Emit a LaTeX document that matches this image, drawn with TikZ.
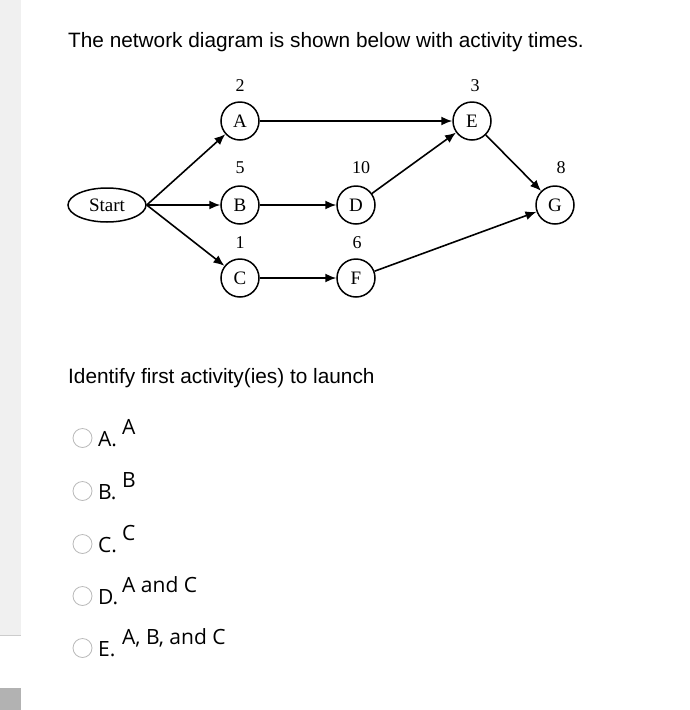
\documentclass[tikz,border=0pt]{standalone}
\usepackage{fontspec}
\setmainfont{Liberation Sans}
\newfontfamily\serf{Liberation Serif}
\newfontfamily\opsans{Open Sans}
\usetikzlibrary{shapes.geometric,arrows.meta}
\begin{document}
\begin{tikzpicture}[x=1pt,y=-1pt,
  act/.style={circle,draw,line width=1.5pt,minimum size=38pt,inner sep=0pt,font=\serf\fontsize{19}{19}\selectfont},
  lab/.style={font=\serf\fontsize{18}{18}\selectfont},
  arr/.style={-{Latex[length=11pt,width=9pt]},line width=1.6pt},
  radio/.style={circle,draw=gray!55,line width=0.8pt,minimum size=19pt,inner sep=0pt},
  opt/.style={font=\opsans\fontsize{21}{21}\selectfont,anchor=base west,inner sep=0pt}]
\useasboundingbox (0,0) rectangle (690,710);
\fill[gray!12] (0,0) rectangle (21,635);
\draw[gray!40,line width=0.8pt] (0,635.5) -- (21,635.5);
\fill[gray!60] (0,688) rectangle (21,710);
\node[anchor=base west,inner sep=0pt,font=\fontsize{20.8}{20.8}\selectfont] (title) at (68,47) {The network diagram is shown below with activity times.};
\node[ellipse,draw,line width=1.5pt,minimum width=78pt,minimum height=34pt,inner sep=0pt,font=\serf\fontsize{19}{19}\selectfont] (S) at (107,205) {Start};
\node[act] (A) at (240,121) {A};
\node[act] (B) at (240,205) {B};
\node[act] (C) at (240,278) {C};
\node[act] (D) at (356,205) {D};
\node[act] (F) at (356,278) {F};
\node[act] (E) at (472,121) {E};
\node[act] (G) at (555,205) {G};
\node[lab] (lA) at (240,86) {2};
\node[lab] (lB) at (240,168) {5};
\node[lab] (lC) at (240,243) {1};
\node[lab] (lD) at (361,168) {10};
\node[lab] (lF) at (357,243) {6};
\node[lab] (lE) at (475,86) {3};
\node[lab] (lG) at (561,168) {8};
\draw[arr] (S.east) -- (A);
\draw[arr] (S.east) -- (B);
\draw[arr] (S.east) -- (C);
\draw[arr] (A) -- (E);
\draw[arr] (B) -- (D);
\draw[arr] (C) -- (F);
\draw[arr] (D) -- (E);
\draw[arr] (E) -- (G);
\draw[arr] (F) -- (G);
\node[anchor=base west,inner sep=0pt,font=\fontsize{20.8}{20.8}\selectfont] (q) at (68,383) {Identify first activity(ies) to launch};
\foreach \y/\l/\t [count=\i] in {438/A./A,491/B./B,544/C./C,596/D./A and C,648/E./{A, B, and C}}{
  \node[radio] (r\i) at (82.5,\y) {};
  \node[opt] (k\i) at (98,\y+8) {\l};
  \node[opt] (t\i) at (122,\y-4) {\t};
}
\end{tikzpicture}
\end{document}
